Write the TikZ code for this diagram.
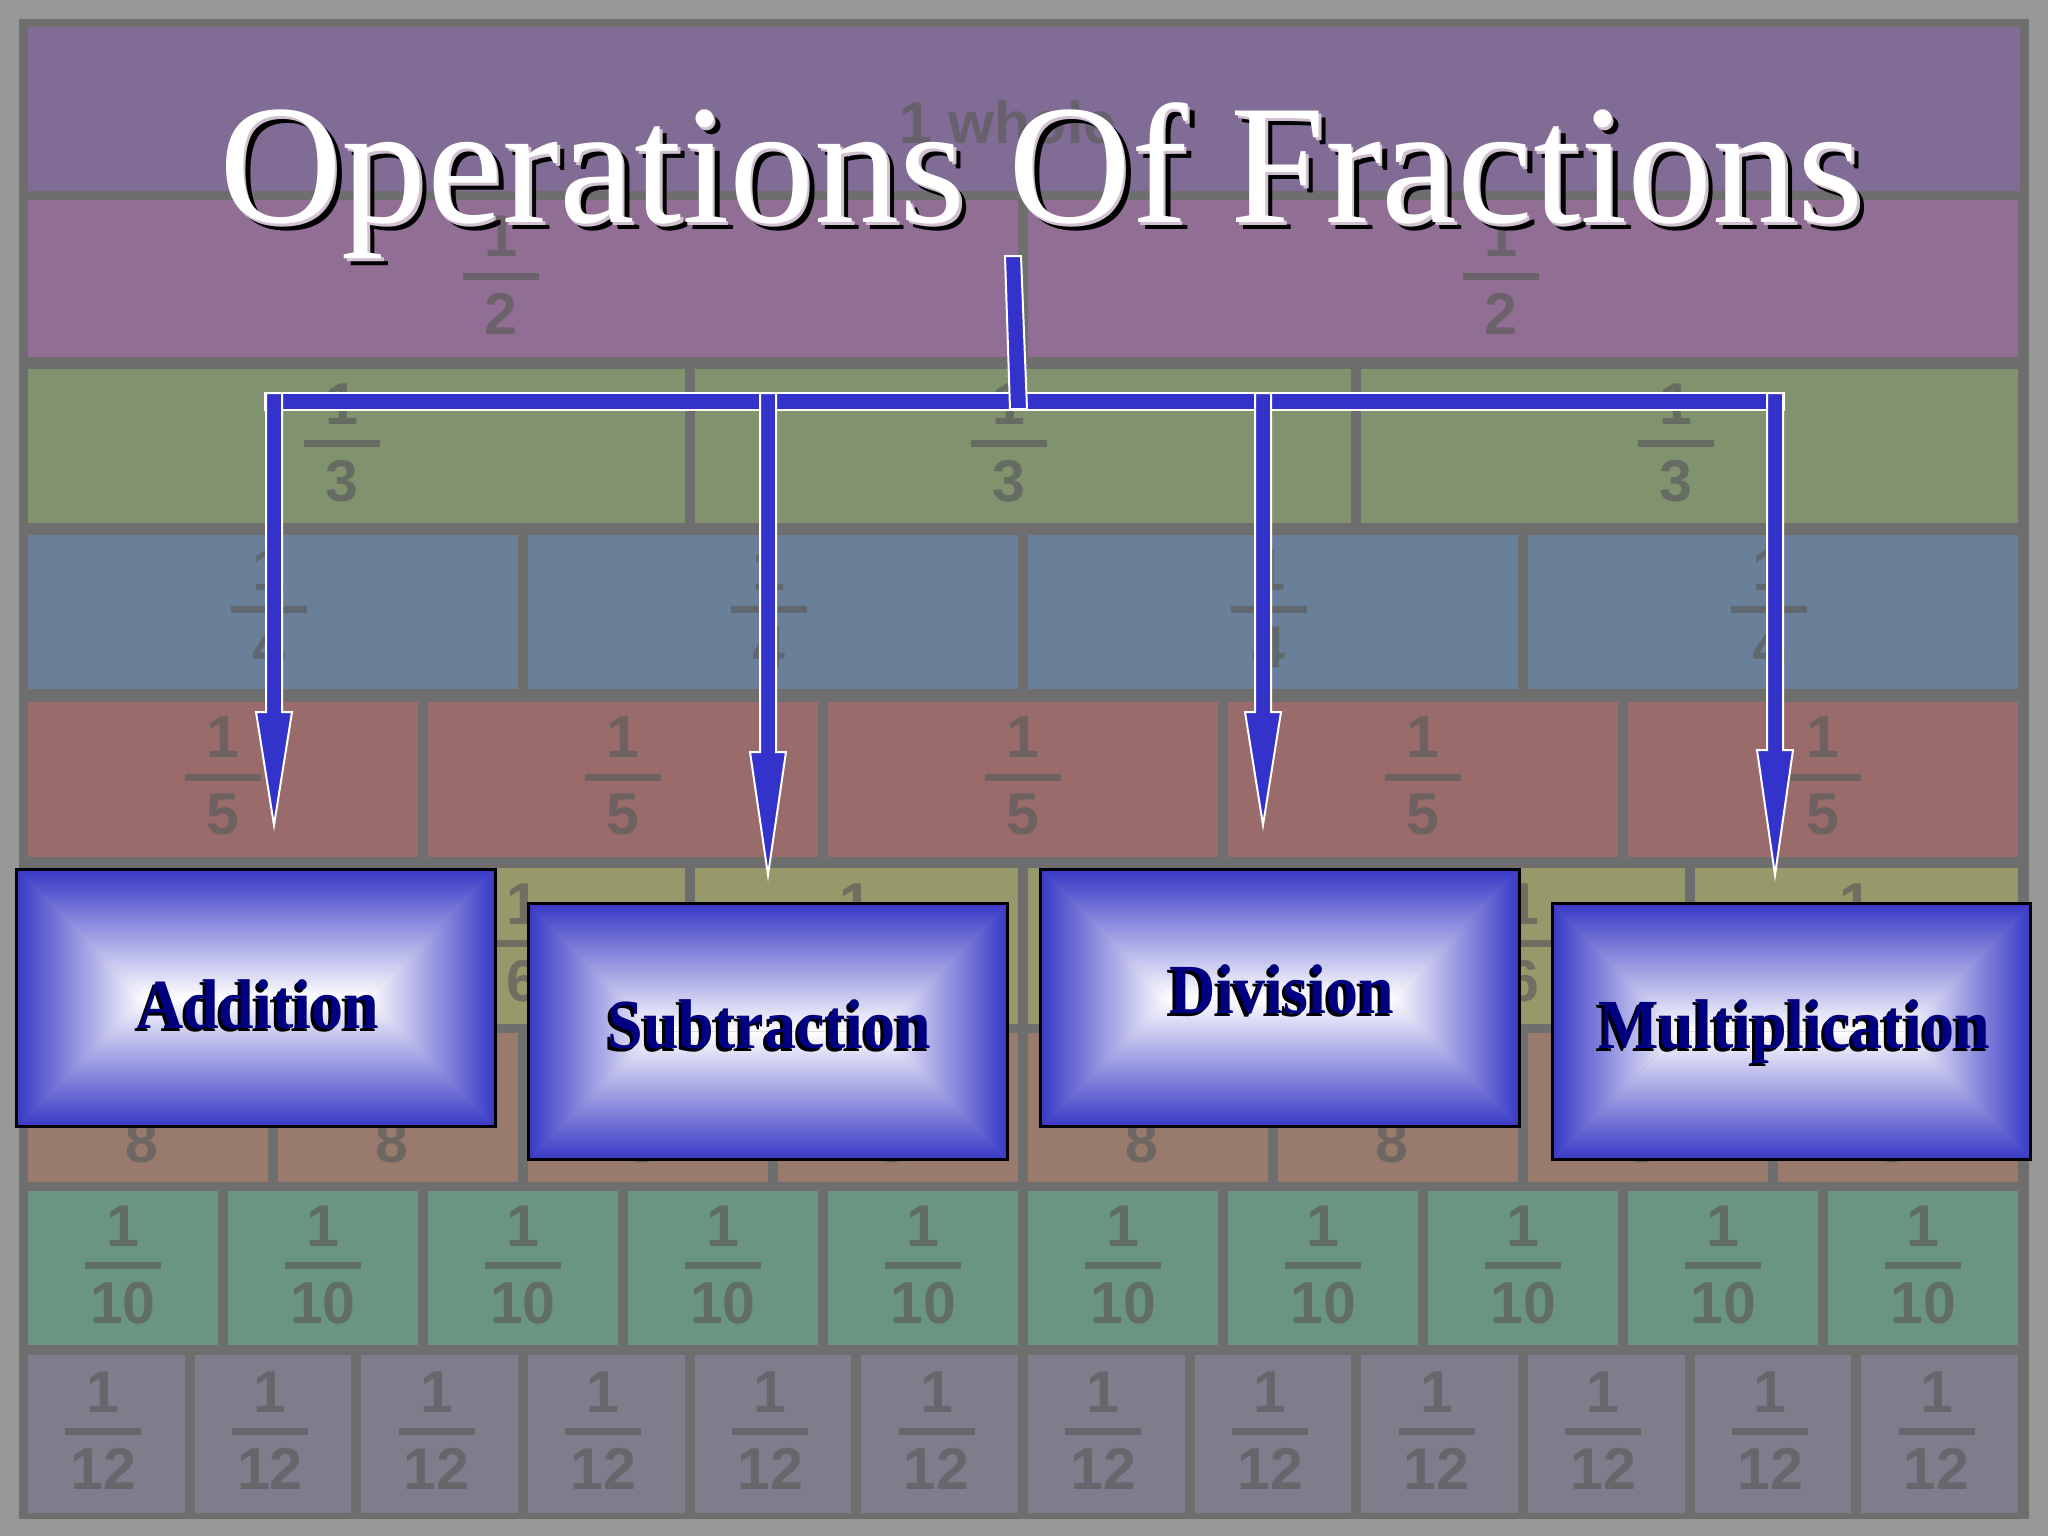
\documentclass[tikz,border=0pt]{standalone}
\usepackage{fontspec}
\setmainfont{Liberation Serif}
\newfontfamily\fracfont{Liberation Sans}
\usetikzlibrary{calc}
\definecolor{bgcol}{HTML}{969896}
\definecolor{wallline}{HTML}{6E6E6E}
\definecolor{cA}{HTML}{806C95}
\definecolor{cB}{HTML}{916E93}
\definecolor{cC}{HTML}{80926E}
\definecolor{cD}{HTML}{6A8098}
\definecolor{cE}{HTML}{996B6B}
\definecolor{cF}{HTML}{98996B}
\definecolor{cG}{HTML}{997B6D}
\definecolor{cH}{HTML}{6A9681}
\definecolor{cI}{HTML}{7F7D8C}
\definecolor{fraccol}{HTML}{5E5E5E}
\definecolor{connblue}{HTML}{3333CC}
\definecolor{boxblue}{HTML}{3838C6}
\definecolor{navytext}{HTML}{000080}
\definecolor{titleedge}{HTML}{D0C0D0}

% drop with arrow head: #1 tip coordinate, #2 head length
\newcommand\dropArrow[2]{%
  \draw[conn] ($(#1|-barL)+(-8,0)$) -- ($(#1|-barL)+(8,0)$) -- ($(#1)+(8,-#2)$)
    -- ($(#1)+(18,-#2)$) -- (#1) -- ($(#1)+(-18,-#2)$) -- ($(#1)+(-8,-#2)$) -- cycle;}

\begin{document}
\begin{tikzpicture}[x=0.01cm, y=-0.01cm,
  fraclbl/.style={font=\fracfont\bfseries\fontsize{16.8pt}{18pt}\selectfont, text=fraccol, text opacity=0.72, inner sep=0pt},
  conn/.style={fill=connblue, draw=white, line width=0.02cm, line join=miter},
  opbox/.style={minimum width=4.78cm, minimum height=2.56cm, inner sep=0pt, outer sep=0pt,
    path picture={
      \path (path picture bounding box.north west) coordinate (pnw)
            (path picture bounding box.north east) coordinate (pne)
            (path picture bounding box.south west) coordinate (psw)
            (path picture bounding box.south east) coordinate (pse)
            (path picture bounding box.west) coordinate (pw)
            (path picture bounding box.east) coordinate (pe);
      \path ($(pw)+(1.28cm,0)$) coordinate (pl) ($(pe)+(-1.28cm,0)$) coordinate (pr);
      \shade[top color=boxblue, middle color=boxblue!50!white, bottom color=white] (pnw) -- (pne) -- (pr) -- (pl) -- cycle;
      \shade[top color=white, middle color=boxblue!50!white, bottom color=boxblue] (psw) -- (pse) -- (pr) -- (pl) -- cycle;
      \shade[left color=boxblue, middle color=boxblue!50!white, right color=white] (pnw) -- (pl) -- (psw) -- cycle;
      \shade[left color=white, middle color=boxblue!50!white, right color=boxblue] (pne) -- (pr) -- (pse) -- cycle;
    }},
  boxtext/.style={font=\bfseries\fontsize{18.2pt}{20pt}\selectfont, inner sep=0pt, anchor=base},
  titletext/.style={font=\fontsize{48.4pt}{52pt}\selectfont, inner sep=0pt, anchor=base}]

\useasboundingbox[fill=bgcol] (0,0) rectangle (2048,1536);

% fraction wall
\fill[wallline] (19,19) rectangle (2029,1519);
\fill[cA] (28,27) rectangle (2020,191);
\node[fraclbl, anchor=base] (whole) at (1008,143) {1 whole};

\foreach \nn/\col/\ya/\yb/\sh in {2/cB/200/357/-22,3/cC/369/523/-14,4/cD/535/689/-4,5/cE/702/857/0,
                              6/cF/868/1024/0,8/cG/1033/1182/-6,10/cH/1191/1345/0,12/cI/1355/1513/-3}{
  \pgfmathsetmacro\yc{(\ya+\yb)/2}
  \pgfmathsetmacro\cw{2000/\nn}
  \foreach \kk in {1,...,\nn}{
    \pgfmathsetmacro\xl{23+(\kk-1)*\cw+5}
    \pgfmathsetmacro\xr{23+\kk*\cw-5}
    \pgfmathsetmacro\xc{23+(\kk-0.5)*\cw+\sh}
    \fill[\col] (\xl,\ya) rectangle (\xr,\yb);
    \node[fraclbl] (num-\nn-\kk) at (\xc,\yc-42) {1};
    \fill[fraccol, fill opacity=0.72] (\xc-38,\yc-6) rectangle (\xc+38,\yc+1);
    \node[fraclbl] (den-\nn-\kk) at (\xc,\yc+35) {\nn};
  }
}

% connector coordinates
\coordinate (stemT) at (1013,256);
\coordinate (stemB) at (1018.5,409);
\coordinate (barL) at (265,393);
\coordinate (barR) at (1784,410);
\coordinate (tipA) at (274,825);
\coordinate (tipS) at (768,875);
\coordinate (tipD) at (1263,825);
\coordinate (tipM) at (1775,875);

\draw[conn] (barL) rectangle (barR);
\dropArrow{tipA}{113}
\dropArrow{tipS}{123}
\dropArrow{tipD}{113}
\dropArrow{tipM}{125}
\draw[conn] ($(stemT)+(-8,0)$) -- ($(stemT)+(8,0)$) -- ($(stemB)+(8.5,0)$) -- ($(stemB)+(-8.5,0)$) -- cycle;

% boxes
\node[opbox] (add) at (256,998) {};
\node[opbox] (sub) at (768,1031.5) {};
\node[opbox] (div) at (1280,998) {};
\node[opbox] (mul) at (1791.5,1031.5) {};
\foreach \b in {add,sub,div,mul}
  \draw[black, line width=0.03cm] (\b.north west) rectangle (\b.south east);

% box texts
\node[boxtext, text=black] (addsh) at (255,1031) {\scalebox{1}[1.1]{Addition}};
\node[boxtext, text=navytext] (addt) at (258,1028) {\scalebox{1}[1.1]{Addition}};
\node[boxtext, text=black] (subsh) at (766.5,1051) {\scalebox{1}[1.1]{Subtraction}};
\node[boxtext, text=navytext] (subt) at (769.5,1048) {\scalebox{1}[1.1]{Subtraction}};
\node[boxtext, text=black] (divsh) at (1279,1016) {\scalebox{1}[1.1]{Division}};
\node[boxtext, text=navytext] (divt) at (1282,1013) {\scalebox{1}[1.1]{Division}};
\node[boxtext, text=black] (mulsh) at (1791,1051) {\scalebox{1}[1.1]{Multiplication}};
\node[boxtext, text=navytext] (mult) at (1794,1048) {\scalebox{1}[1.1]{Multiplication}};

% title
\node[titletext, text=black] (titlesh) at (1048.5,229) {Operations Of Fractions};
\node[titletext, text=titleedge] (titleed) at (1044,225) {Operations Of Fractions};
\node[titletext, text=white] (title) at (1041.5,222) {Operations Of Fractions};
\end{tikzpicture}
\end{document}
